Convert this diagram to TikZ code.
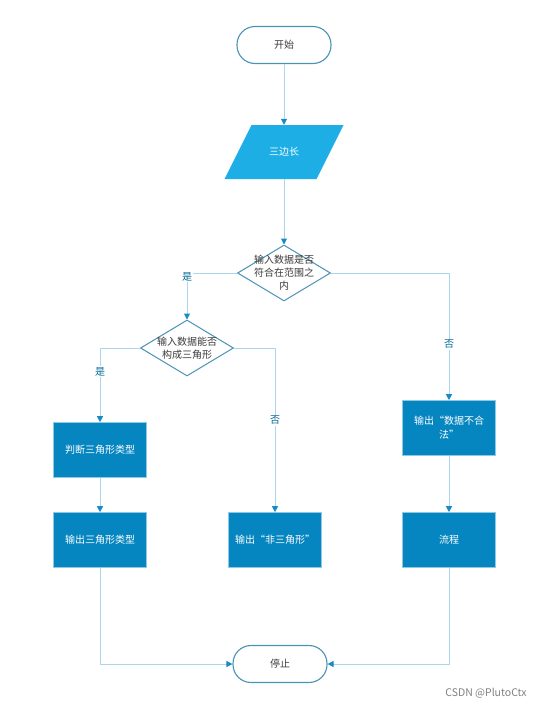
\documentclass[tikz,border=0pt]{standalone}
\usepackage{fontspec}
\newfontfamily\cjk{Noto Sans CJK SC}
\usetikzlibrary{arrows.meta,shapes.geometric,calc}
\definecolor{FlowEdge}{HTML}{4A92B6}
\definecolor{FlowCyan}{HTML}{1DAEE5}
\definecolor{FlowBlue}{HTML}{0686C0}
\definecolor{FlowLine}{HTML}{ADD5EB}
\definecolor{FlowTip}{HTML}{1A8AC4}
\definecolor{FlowText}{HTML}{3A3A3A}

\begin{document}
\begin{tikzpicture}[x=1pt,y=-1pt,
    term/.style={draw=FlowEdge,line width=1.1pt,fill=white,rounded corners=18pt,minimum width=94pt,minimum height=37pt,font=\cjk\fontsize{10}{12}\selectfont,text=FlowText},
    iobox/.style={rectangle,minimum width=119pt,minimum height=54pt,inner sep=0pt,font=\cjk\fontsize{10}{12}\selectfont,text=white,
      path picture={\fill[FlowCyan] ([xshift=27pt]path picture bounding box.north west) -- (path picture bounding box.north east)
        -- ([xshift=-27pt]path picture bounding box.south east) -- (path picture bounding box.south west) -- cycle;}},
    choice/.style={diamond,draw=FlowEdge,line width=1pt,fill=white,minimum width=93pt,minimum height=56pt,inner sep=0pt},
    dtext/.style={font=\cjk\fontsize{10}{13}\selectfont,text=FlowText,align=center},
    proc/.style={draw=FlowBlue!45!white,line width=0.6pt,fill=FlowBlue,minimum width=93pt,minimum height=55pt,align=center,font=\cjk\fontsize{10}{14}\selectfont,text=white},
    arr/.style={-{Triangle[length=6pt,width=6pt,color=FlowTip]},draw=FlowLine,line width=1pt},
    lbl/.style={font=\cjk\fontsize{10}{12}\selectfont,text=FlowBlue!80!black,fill=white,inner sep=1pt}
  ]
    \useasboundingbox (0,0) rectangle (558,707);
    \node[term] (start) at (284,45) {开始};
    \node[iobox] (sides) at (284,152) {三边长};
    \node[choice,label={[dtext]center:输入数据是否\\符合在范围之\\内}] (range) at (284,273) {};
    \node[choice,label={[dtext]center:输入数据能否\\构成三角形}] (istri) at (187,348) {};
    \node[proc] (judge) at (100,450) {判断三角形类型};
    \node[proc] (outtype) at (100,540) {输出三角形类型};
    \node[proc] (notri) at (275,540) {输出“非三角形”};
    \node[proc] (bad) at (449,428) {输出“数据不合\\法”};
    \node[proc] (flow) at (449,540) {流程};
    \node[term] (stop) at (280,664) {停止};
    \node[font=\cjk\fontsize{10.5}{12}\selectfont,text=black!50] (mark) at (486,693) {CSDN @PlutoCtx};
    \draw[arr] (start)--(sides); \draw[arr] (sides)--(range);
    \draw[arr] (range.west) -| node[lbl,pos=0.5,yshift=-4pt]{是} (istri.north);
    \draw[arr] (range.east) -| node[lbl,pos=0.78]{否} (bad.north);
    \draw[arr] (istri.west) -| node[lbl,pos=0.66]{是} (judge.north);
    \draw[arr] (istri.east) -| node[lbl,pos=0.72]{否} (notri.north);
    \draw[arr] (judge)--(outtype); \draw[arr] (bad)--(flow);
    \draw[arr] (outtype.south) |- (stop.west);
    \draw[arr] (flow.south) |- (stop.east);
  \end{tikzpicture}
\end{document}
